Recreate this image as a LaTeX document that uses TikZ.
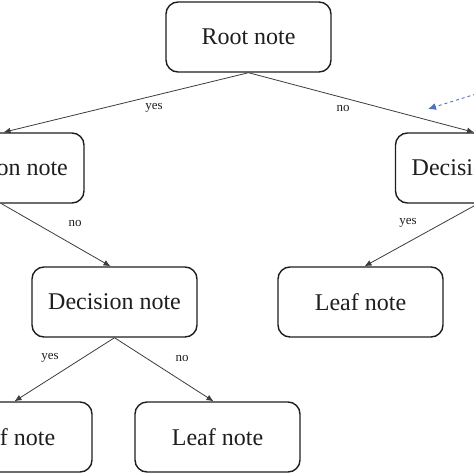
\documentclass[tikz,border=0pt]{standalone}
\usepackage{fontspec}
\setmainfont{Liberation Serif}
\usetikzlibrary{arrows.meta}
\definecolor{ink}{RGB}{30,30,30}
\definecolor{edgec}{RGB}{60,60,60}
\definecolor{hint}{RGB}{80,110,200}
\begin{document}
\begin{tikzpicture}[x=1pt,y=-1pt,
  box/.style={draw=ink,line width=1.4pt,rounded corners=12pt,minimum width=165pt,minimum height=70pt,font=\fontsize{24}{28}\selectfont,text=ink,inner sep=0pt},
  conn/.style={draw=edgec,line width=0.8pt,-{Latex[length=7pt,width=6pt]}},
  lab/.style={font=\fontsize{13}{15}\selectfont,text=ink,inner sep=0pt}]
\useasboundingbox (0,0) rectangle (474,474);
\node[box] (root) at (248.5,37) {Root note};
\node[box] (ldec) at (1.5,168) {Decision note};
\node[box] (rdec) at (478,168) {Decision note};
\node[box] (mdec) at (114.5,302) {Decision note};
\node[box] (rleaf) at (360.5,302) {Leaf note};
\node[box] (blleaf) at (9.5,437) {Leaf note};
\node[box] (brleaf) at (217.5,437) {Leaf note};
\draw[conn] (root.south) -- ([xshift=2pt]ldec.north);
\draw[conn] (root.south) -- ([xshift=-4pt]rdec.north);
\draw[conn] (ldec.south) -- ([xshift=-4pt]mdec.north);
\draw[conn] (rdec.south) -- ([xshift=4pt]rleaf.north);
\draw[conn] (mdec.south) -- ([xshift=5pt]blleaf.north);
\draw[conn] (mdec.south) -- ([xshift=-4pt]brleaf.north);
\node[lab] (l1) at (154,108) {yes};
\node[lab] (l2) at (343,108) {no};
\node[lab] (l3) at (75,223) {no};
\node[lab] (l4) at (408,223) {yes};
\node[lab] (l5) at (50,358) {yes};
\node[lab] (l6) at (182,358) {no};
\coordinate (hs) at (476,94);
\coordinate (he) at (428,109);
\draw[hint,line width=0.9pt,dashed,-{Latex[length=8pt,width=7pt]}] (hs) -- (he);
\end{tikzpicture}
\end{document}
